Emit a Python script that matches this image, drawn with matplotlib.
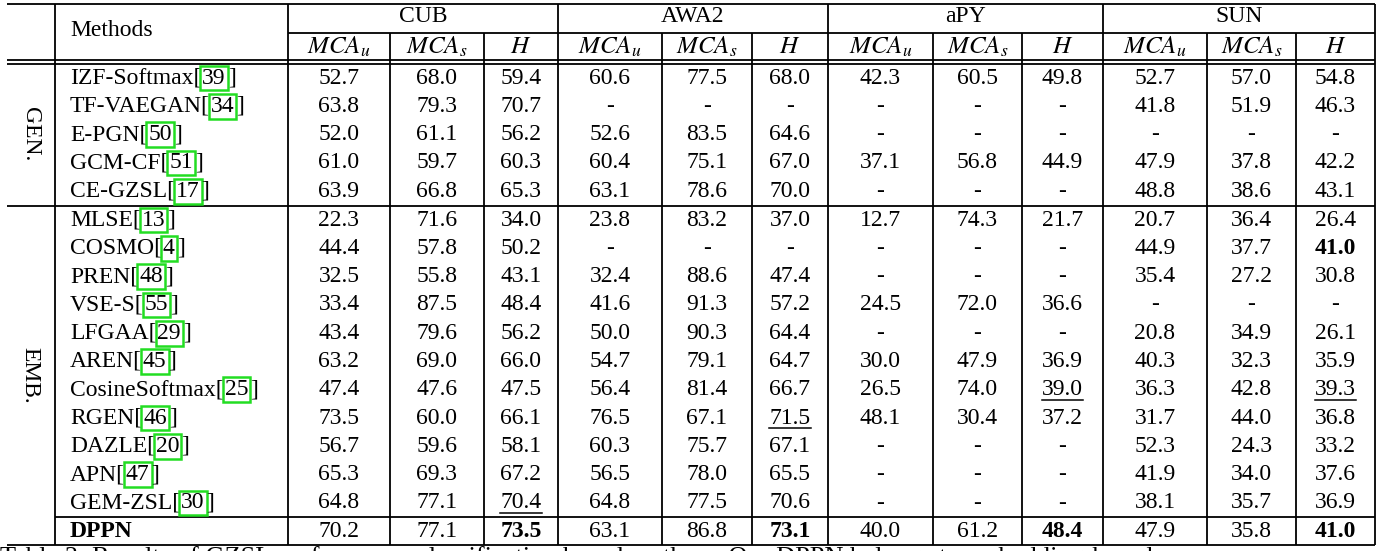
import matplotlib
matplotlib.use("Agg")
import matplotlib.pyplot as plt

plt.rcParams['font.family'] = ['Liberation Serif', 'DejaVu Serif']
plt.rcParams['mathtext.fontset'] = 'stix'

datasets = ["CUB", "AWA2", "aPY", "SUN"]
metrics = [r"$MCA_u$", r"$MCA_s$", r"$H$"]
groups = [("GEN.", 5), ("EMB.", 11)]
methods = [("IZF-Softmax", "39"), ("TF-VAEGAN", "34"), ("E-PGN", "50"), ("GCM-CF", "51"), ("CE-GZSL", "17"),
           ("MLSE", "13"), ("COSMO", "4"), ("PREN", "48"), ("VSE-S", "55"), ("LFGAA", "29"), ("AREN", "45"),
           ("CosineSoftmax", "25"), ("RGEN", "46"), ("DAZLE", "20"), ("APN", "47"), ("GEM-ZSL", "30"), ("DPPN", None)]
values = [
    ["52.7","68.0","59.4","60.6","77.5","68.0","42.3","60.5","49.8","52.7","57.0","54.8"],
    ["63.8","79.3","70.7","-","-","-","-","-","-","41.8","51.9","46.3"],
    ["52.0","61.1","56.2","52.6","83.5","64.6","-","-","-","-","-","-"],
    ["61.0","59.7","60.3","60.4","75.1","67.0","37.1","56.8","44.9","47.9","37.8","42.2"],
    ["63.9","66.8","65.3","63.1","78.6","70.0","-","-","-","48.8","38.6","43.1"],
    ["22.3","71.6","34.0","23.8","83.2","37.0","12.7","74.3","21.7","20.7","36.4","26.4"],
    ["44.4","57.8","50.2","-","-","-","-","-","-","44.9","37.7","41.0"],
    ["32.5","55.8","43.1","32.4","88.6","47.4","-","-","-","35.4","27.2","30.8"],
    ["33.4","87.5","48.4","41.6","91.3","57.2","24.5","72.0","36.6","-","-","-"],
    ["43.4","79.6","56.2","50.0","90.3","64.4","-","-","-","20.8","34.9","26.1"],
    ["63.2","69.0","66.0","54.7","79.1","64.7","30.0","47.9","36.9","40.3","32.3","35.9"],
    ["47.4","47.6","47.5","56.4","81.4","66.7","26.5","74.0","39.0","36.3","42.8","39.3"],
    ["73.5","60.0","66.1","76.5","67.1","71.5","48.1","30.4","37.2","31.7","44.0","36.8"],
    ["56.7","59.6","58.1","60.3","75.7","67.1","-","-","-","52.3","24.3","33.2"],
    ["65.3","69.3","67.2","56.5","78.0","65.5","-","-","-","41.9","34.0","37.6"],
    ["64.8","77.1","70.4","64.8","77.5","70.6","-","-","-","38.1","35.7","36.9"],
    ["70.2","77.1","73.5","63.1","86.8","73.1","40.0","61.2","48.4","47.9","35.8","41.0"],
]
bold_cells = [(6, 11), (16, 2), (16, 5), (16, 8), (16, 11)]
underline_cells = [(15, 2), (12, 5), (11, 8), (11, 11)]
caption = "Table 3: Results of GZSL performance classification based on the ... Our DPPN belongs to embedding-based"

W, H = 1381, 551
fig = plt.figure(figsize=(W/100, H/100), dpi=100)
ax = fig.add_axes([0, 0, 1, 1])
ax.set_xlim(0, W); ax.set_ylim(H, 0); ax.axis('off')

cols = [288, 390, 484, 558, 662, 752, 828, 933, 1022, 1103, 1207, 1296, 1375]
L, R = 7, 1375
s = 28.3
rows_y = [78 + s*i for i in range(5)] + [220 + s*i for i in range(12)]
FS = 17
lw = 1.3

def hl(y, x0=L, x1=R):
    ax.plot([x0, x1], [y, y], color='black', lw=lw, solid_capstyle='butt')
def vl(x, y0, y1):
    ax.plot([x, x], [y0, y1], color='black', lw=lw, solid_capstyle='butt')

top, bottom = 4, 545
hl(top); hl(33, 288, R); hl(60); hl(63.5); hl(205.5); hl(517, 55, R); hl(bottom)
vl(55, top, bottom)
for i, x in enumerate(cols):
    if i % 3 == 0:
        vl(x, top, bottom)
    else:
        vl(x, 33, bottom)

ax.text(70, 31, "Methods", fontsize=FS, va='center', ha='left')
for d, name in enumerate(datasets):
    x0, x1 = cols[3*d], cols[3*d+3]
    ax.text((x0+x1)/2, 17, name, fontsize=FS, ha='center', va='center')
    for m, met in enumerate(metrics):
        ax.text((cols[3*d+m]+cols[3*d+m+1])/2, 47, met, fontsize=FS+1, ha='center', va='center')

ax.text(30, (rows_y[0]+rows_y[4])/2, groups[0][0], fontsize=FS, rotation=-90, ha='center', va='center')
ax.text(30, (rows_y[5]+rows_y[16])/2, groups[1][0], fontsize=FS, rotation=-90, ha='center', va='center')

fig.canvas.draw()
rend = fig.canvas.get_renderer()
inv = ax.transData.inverted()
for r, (name, ref) in enumerate(methods):
    y = rows_y[r]
    if ref is None:
        ax.text(70, y, name, fontsize=FS, fontweight='bold', ha='left', va='center')
    else:
        t = ax.text(70, y, name + "[", fontsize=FS, ha='left', va='center')
        bb = t.get_window_extent(rend)
        x = inv.transform((bb.x1, bb.y0))[0]
        t2 = ax.text(x + 1, y, ref, fontsize=FS, ha='left', va='center',
                     bbox=dict(boxstyle='square,pad=0.08', fc='none', ec='#22dd22', lw=1.8))
        bb2 = t2.get_window_extent(rend)
        x2 = inv.transform((bb2.x1, bb2.y0))[0]
        ax.text(x2 + 2, y, "]", fontsize=FS, ha='left', va='center')
    for c, v in enumerate(values[r]):
        xc = (cols[c]+cols[c+1])/2
        w = 'bold' if (r, c) in bold_cells else 'normal'
        t = ax.text(xc, y, v, fontsize=FS, ha='center', va='center', fontweight=w)
        if (r, c) in underline_cells:
            bb = t.get_window_extent(rend)
            (a, _), (b, _) = inv.transform((bb.x0, bb.y0)), inv.transform((bb.x1, bb.y0))
            ax.plot([a, b], [y + 10, y + 10], color='black', lw=1.1)

ax.text(0, 558, caption, fontsize=FS+2, ha='left', va='center')
fig.savefig("out.png", dpi=100)
